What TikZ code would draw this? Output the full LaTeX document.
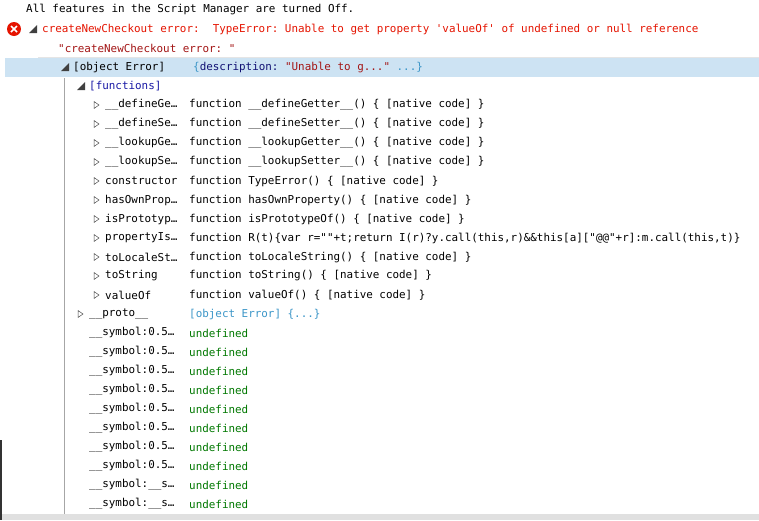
\documentclass[tikz,border=0pt]{standalone}
\usepackage{fontspec}
\setmonofont{DejaVu Sans Mono}
\usepackage{xcolor}
\usetikzlibrary{positioning}
\definecolor{errred}{RGB}{229,20,0}
\definecolor{strred}{RGB}{163,21,21}
\definecolor{keyblue}{RGB}{26,26,166}
\definecolor{dimteal}{RGB}{60,150,200}
\definecolor{undefgreen}{RGB}{0,120,0}
\definecolor{selblue}{RGB}{205,227,243}
\tikzstyle{txt}=[anchor=west,inner sep=0pt,font=\ttfamily\fontsize{10.9}{12}\selectfont]
\tikzstyle{open}=[fill=black!75]
\tikzstyle{shut}=[draw=black!70,fill=white,line width=0.5pt]

\begin{document}
\begin{tikzpicture}[x=1pt,y=-1pt]
    \useasboundingbox (0,0) rectangle (759,520);
    \fill[white] (0,0) rectangle (759,520);
    \fill[selblue] (5,58) rectangle (759,77);
    \draw[black!10] (38,57.5) -- (759,57.5);
    \draw[black!35] (64.5,78) -- (64.5,514);
    \fill[black!12] (0,514) rectangle (759,520);
    \fill[black!80] (0,440) rectangle (2,520);

    \node[txt] (note) at (26,9) {All features in the Script Manager are turned Off.};

    % error line
    \node[circle,fill=errred,minimum size=14pt,inner sep=0pt] (icon) at (14,29) {};
    \draw[white,line width=1.6pt] (icon.center) +(-3,-3) -- +(3,3) (icon.center) +(-3,3) -- +(3,-3);
    \fill[open] (37,25) -- (37,33) -- (29,33) -- cycle;
    \node[txt,text=errred] (err) at (42,29) {createNewCheckout error:\ \ TypeError: Unable to get property 'valueOf' of undefined or null reference};
    \node[txt,text=strred] (msg) at (58,48) {"createNewCheckout error: "};

    \fill[open] (69,63) -- (69,71) -- (61,71) -- cycle;
    \node[txt] (obj) at (73,67) {[object Error]};
    \node[txt] (desc) at (193,67) {\textcolor{dimteal}{\{}\textcolor{keyblue!70!black}{description:} \textcolor{strred}{"Unable to g..."} \textcolor{dimteal}{...\}}};

    \fill[open] (85,82) -- (85,90) -- (77,90) -- cycle;
    \node[txt,text=keyblue] (funcs) at (89,86) {[functions]};

    \foreach \y/\key/\val in {105/\_\_defineGe…/function \_\_defineGetter\_\_() \{ [native code] \},
        124/\_\_defineSe…/function \_\_defineSetter\_\_() \{ [native code] \},
        143/\_\_lookupGe…/function \_\_lookupGetter\_\_() \{ [native code] \},
        162/\_\_lookupSe…/function \_\_lookupSetter\_\_() \{ [native code] \},
        181/constructor/function TypeError() \{ [native code] \},
        200/hasOwnProp…/function hasOwnProperty() \{ [native code] \},
        219/isPrototyp…/function isPrototypeOf() \{ [native code] \},
        238/propertyIs…/function R(t)\{var r=""+t;return I(r)?y.call(this{,}r)\&\&this[a]["@@"+r]:m.call(this{,}t)\},
        257/toLocaleSt…/function toLocaleString() \{ [native code] \},
        276/toString/function toString() \{ [native code] \},
        295/valueOf/function valueOf() \{ [native code] \}}
    {
        \draw[shut] (94,\y-3.5) -- (94,\y+3.5) -- (99,\y) -- cycle;
        \node[txt] (k\y) at (105,\y) {\key};
        \node[txt] (v\y) at (189,\y) {\val};
    }

    \draw[shut] (78,310.5) -- (78,317.5) -- (83,314) -- cycle;
    \node[txt] (proto) at (89,314) {\_\_proto\_\_};
    \node[txt,text=dimteal] (protoval) at (189,314) {[object Error] \{...\}};

    \foreach \y/\key in {333/\_\_symbol:0.5…, 352/\_\_symbol:0.5…, 371/\_\_symbol:0.5…, 390/\_\_symbol:0.5…,
        409/\_\_symbol:0.5…, 428/\_\_symbol:0.5…, 447/\_\_symbol:0.5…, 466/\_\_symbol:0.5…,
        485/\_\_symbol:\_\_s…, 504/\_\_symbol:\_\_s…}
    {
        \node[txt] (s\y) at (89,\y) {\key};
        \node[txt,text=undefgreen] (u\y) at (189,\y) {undefined};
    }
\end{tikzpicture}
\end{document}
